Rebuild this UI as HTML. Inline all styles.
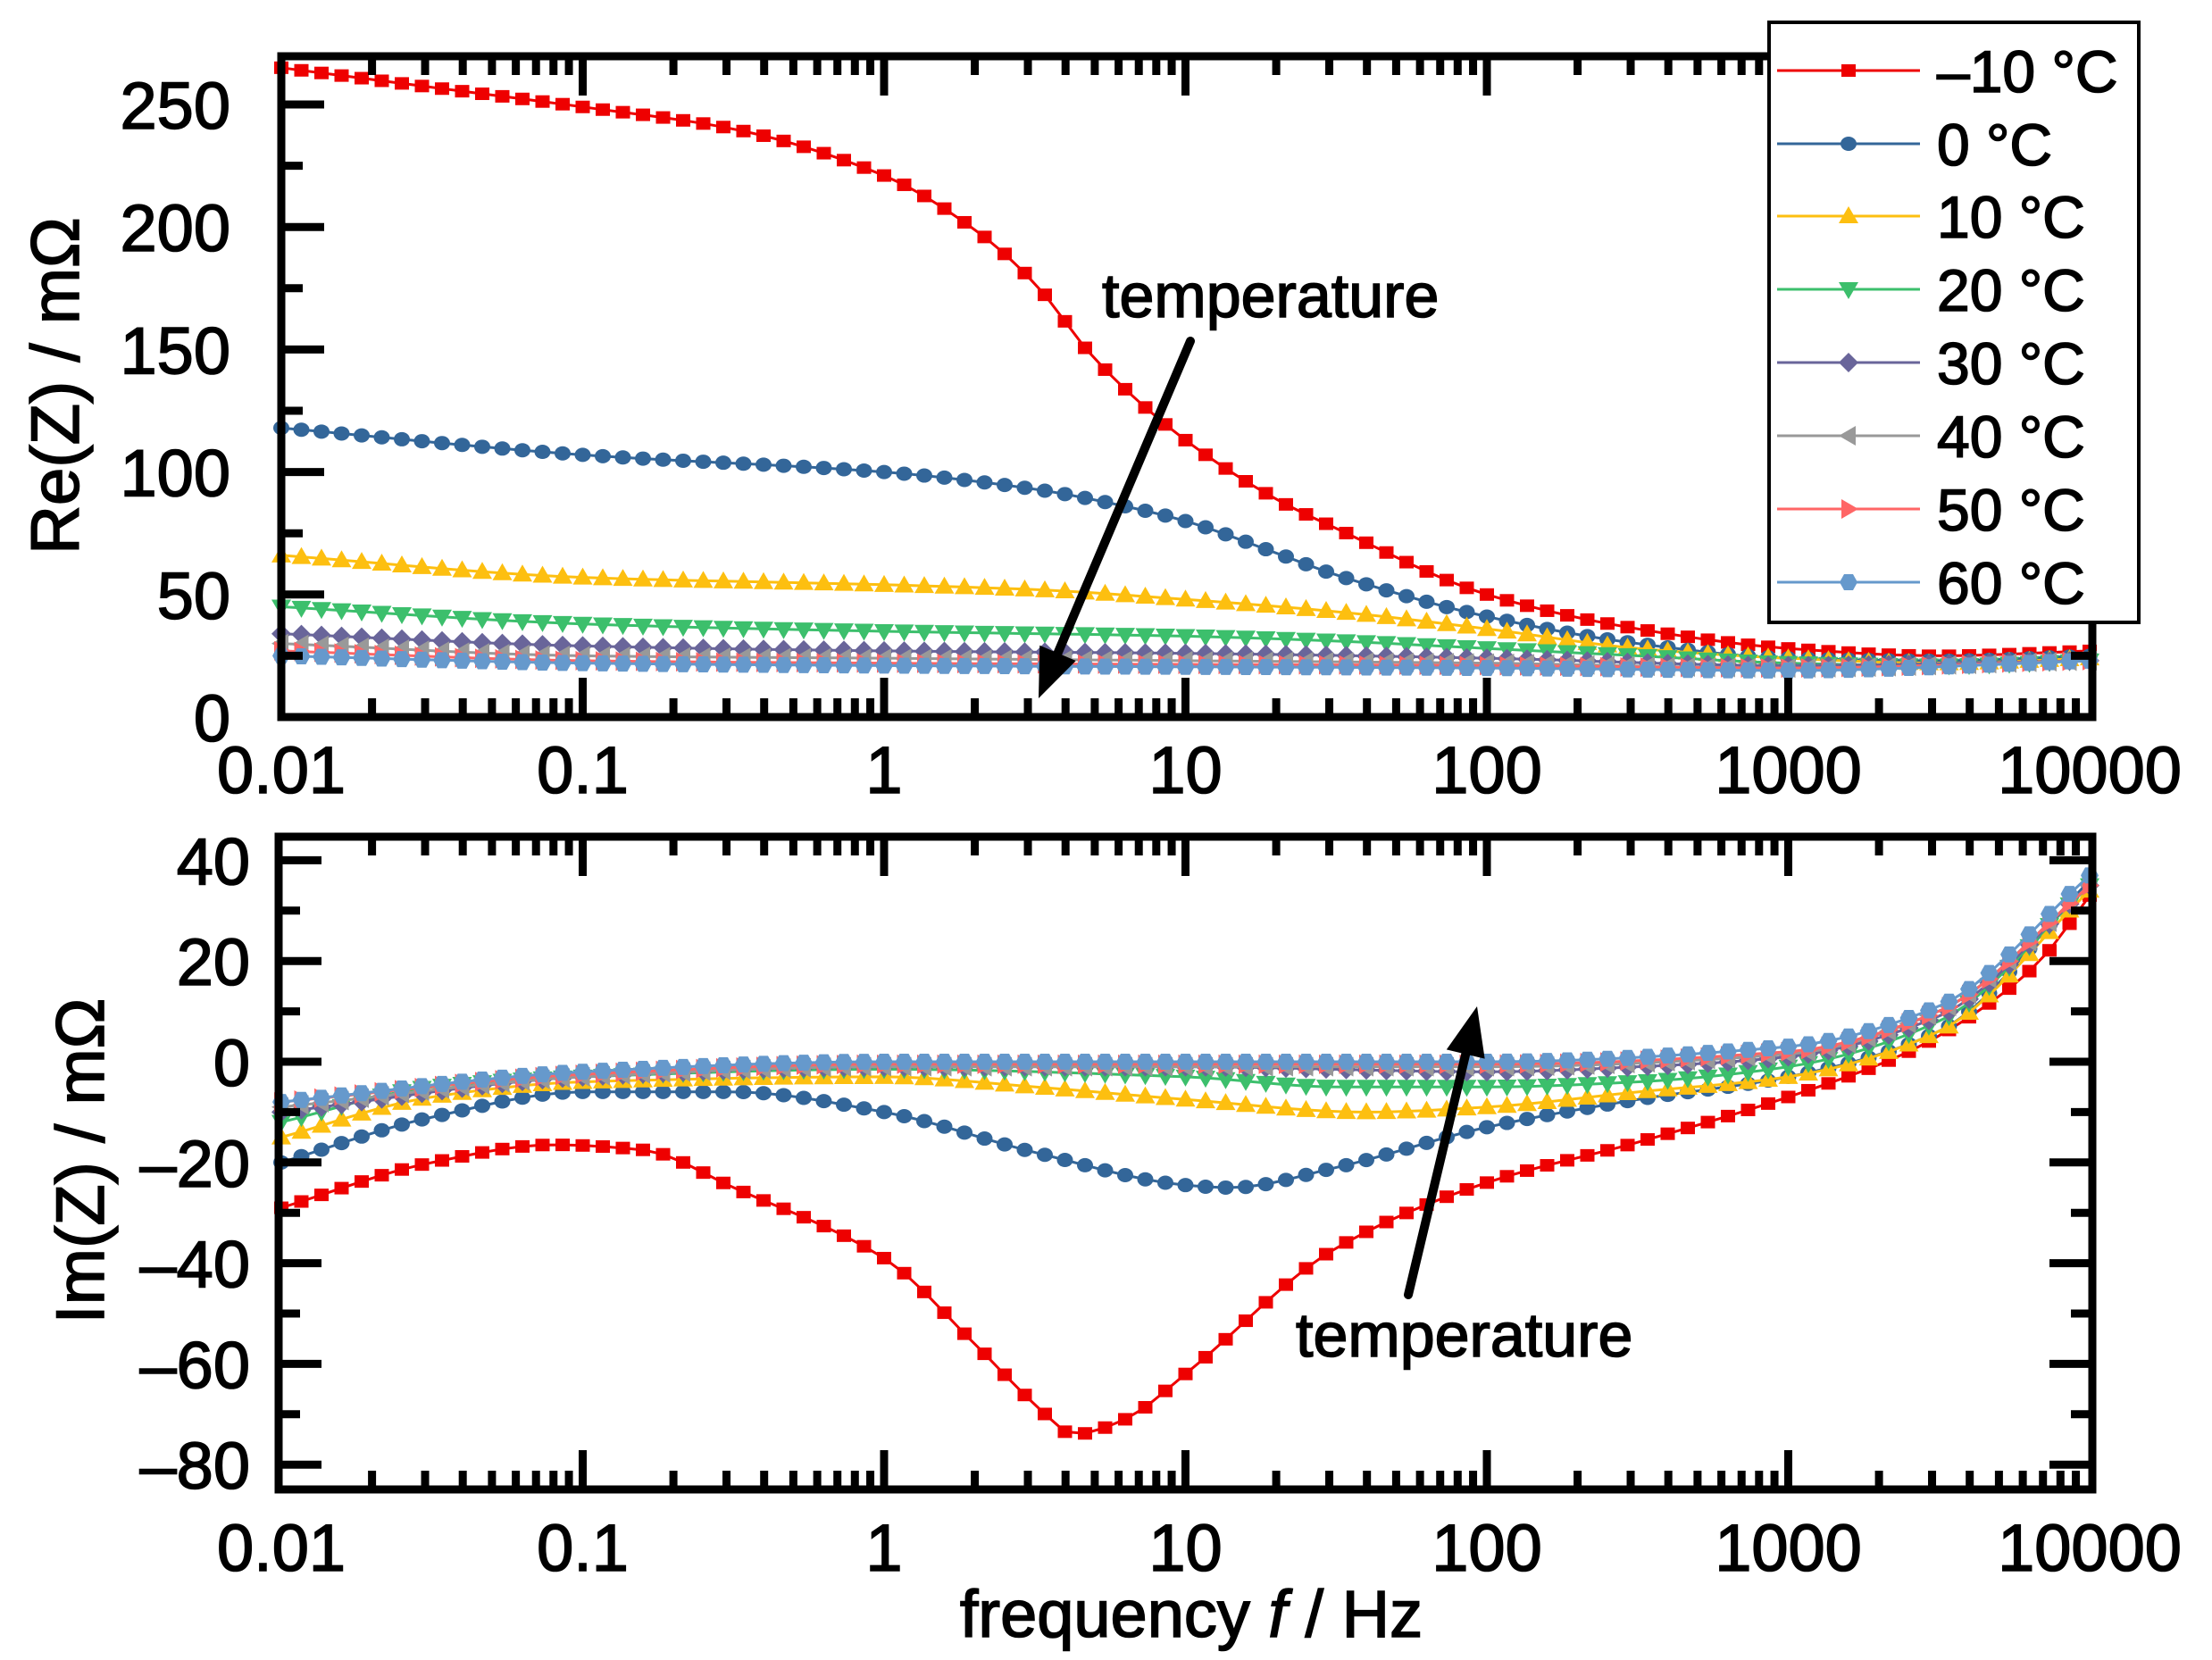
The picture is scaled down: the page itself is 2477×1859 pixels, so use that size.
<!DOCTYPE html>
<html><head><meta charset="utf-8">
<style>html,body{margin:0;padding:0;background:#fff}svg{display:block}text{font-family:"Liberation Sans",Arial,sans-serif;fill:#000;stroke:#000;stroke-width:1.6px}</style>
</head><body>
<svg id="s" width="2477" height="1859" viewBox="0 0 2477 1859" xmlns="http://www.w3.org/2000/svg">
<g id="g"></g>
<text x="1234" y="355" font-size="70">temperature</text>
<text x="1451" y="1519" font-size="70">temperature</text>
<text transform="translate(88,432) rotate(-90)" text-anchor="middle" font-size="76">Re(Z) / mΩ</text>
<text transform="translate(116,1300) rotate(-90)" text-anchor="middle" font-size="76">Im(Z) / mΩ</text>
<text x="1334" y="1833" text-anchor="middle" font-size="74">frequency <tspan font-style="italic">f</tspan> / Hz</text>
</svg>
<script>
var NS="http://www.w3.org/2000/svg",G=document.getElementById('g');
function el(t,a,p){var e=document.createElementNS(NS,t);for(var k in a)e.setAttribute(k,a[k]);(p||G).appendChild(e);return e;}
var X0=315,DEC=337.5;function X(l){return X0+(l+2)*DEC;}
function yT(v){return 803-v*2.744;}function yB(v){return 1189-v*5.64;}
function interp(kp,x){var n=kp.length;if(x<=kp[0][0])return kp[0][1];if(x>=kp[n-1][0])return kp[n-1][1];
 var i=0;while(kp[i+1][0]<x)i++;
 function sl(j){if(j<=0)return (kp[1][1]-kp[0][1])/(kp[1][0]-kp[0][0]);if(j>=n-1)return (kp[n-1][1]-kp[n-2][1])/(kp[n-1][0]-kp[n-2][0]);
  var a=(kp[j][1]-kp[j-1][1])/(kp[j][0]-kp[j-1][0]),b=(kp[j+1][1]-kp[j][1])/(kp[j+1][0]-kp[j][0]);if(a*b<=0)return 0;return 2/(1/a+1/b);}
 var h=kp[i+1][0]-kp[i][0],t=(x-kp[i][0])/h,m0=sl(i)*h,m1=sl(i+1)*h,p0=kp[i][1],p1=kp[i+1][1];
 var t2=t*t,t3=t2*t;return (2*t3-3*t2+1)*p0+(t3-2*t2+t)*m0+(-2*t3+3*t2)*p1+(t3-t2)*m1;}
var S=[
{c:"#ee0000",m:"sq",re:[[-2,265],[-1.5,257],[-1,249],[-0.5,240],[0,221],[0.3,199],[0.5,177],[0.7,146],[1,113],[1.3,89],[1.5,77],[2,50],[2.5,36],[3,28],[3.5,25],[4,27]],
 im:[[-2,-29],[-1.5,-20],[-1.1,-16.5],[-0.8,-17.5],[-0.5,-25],[0,-39],[0.3,-56],[0.5,-68],[0.63,-74],[0.8,-71],[1,-62],[1.5,-37],[2,-24],[2.5,-16],[3,-7],[3.4,2],[3.7,13],[3.85,21],[4,33]]},
{c:"#336699",m:"ci",re:[[-2,118],[-1,107],[0,100],[0.5,93],[0.8,86],[1,80],[1.3,67],[1.5,58],[2,41],[2.5,30],[3,24],[3.5,23],[4,25]],
 im:[[-2,-20],[-1.5,-11],[-1,-6],[-0.5,-6],[0,-10],[0.5,-18],[1,-24.5],[1.15,-25],[1.5,-21],[2,-13],[2.5,-7.5],[3,-3],[3.5,6],[4,36]]},
{c:"#fdbf10",m:"tu",re:[[-2,66],[-1,57],[0,54],[0.5,52],[1,48],[1.5,43],[2,36],[2.5,28],[3,24],[3.5,22],[4,24]],
 im:[[-2,-15],[-1.5,-7],[-1,-4],[0,-3],[0.5,-5],[1,-7.5],[1.6,-10],[2,-9],[2.5,-6],[3,-3],[3.5,6],[4,34]]},
{c:"#3cbf6c",m:"td",re:[[-2,45],[-1,38],[0,35],[1,33],[1.5,31],[2,28],[2.5,25],[3,22],[3.5,21],[4,23]],
 im:[[-2,-12],[-1.5,-5],[-1,-3],[0,-1.5],[1,-3],[1.5,-5],[2,-5],[2.5,-4],[3,-1],[3.5,8],[4,35]]},
{c:"#69659a",m:"di",re:[[-2,34],[-1,29],[0,27],[1,26],[2,24],[3,21],[4,23]],
 im:[[-2,-10],[-1,-3],[0,-1],[1,-1],[2,-2],[2.5,-1],[3,1],[3.5,9],[4,35]]},
{c:"#999999",m:"tl",re:[[-2,30],[-1,25],[0,24],[1,23],[2,22],[3,20],[4,23]],
 im:[[-2,-9],[-1,-3],[0,-1],[2,-1],[3,1.5],[3.5,10],[4,35]]},
{c:"#ff6666",m:"tr",re:[[-2,27],[-1,23],[0,22],[2,21],[3,20],[4,23]],
 im:[[-2,-8],[-1,-2.5],[0,-0.5],[2,-0.5],[3,2],[3.5,10],[4,35]]},
{c:"#6699cc",m:"ci2",re:[[-2,25],[-1,22],[0,21],[2,20],[3,19],[4,23]],
 im:[[-2,-8],[-1,-2],[0,0],[2,0],[3,3],[3.5,11],[4,37]]}];
function mk(t,x,y,c){
 if(t=="sq")el('rect',{x:x-8,y:y-7,width:16,height:14,fill:c});
 else if(t=="ci")el('ellipse',{cx:x,cy:y,rx:9,ry:8,fill:c});
 else if(t=="ci2")el('polygon',{points:[x-10,y,x-5,y-9,x+5,y-9,x+10,y,x+5,y+9,x-5,y+9].join(' '),fill:c});
 else if(t=="tu")el('polygon',{points:[x,y-11,x+11,y+8,x-11,y+8].join(' '),fill:c});
 else if(t=="td")el('polygon',{points:[x,y+11,x+11,y-8,x-11,y-8].join(' '),fill:c});
 else if(t=="di")el('polygon',{points:[x,y-11,x+11,y,x,y+11,x-11,y].join(' '),fill:c});
 else if(t=="tl")el('polygon',{points:[x-11,y,x+8,y-11,x+8,y+11].join(' '),fill:c});
 else if(t=="tr")el('polygon',{points:[x+11,y,x-8,y-11,x-8,y+11].join(' '),fill:c});}
var N=91;
function plot(key,yf){S.forEach(function(s){var pts=[];for(var i=0;i<N;i++){var l=-2+6*i/(N-1);pts.push([X(l),yf(interp(s[key],l))]);}
 el('polyline',{points:pts.map(function(p){return p[0].toFixed(1)+','+p[1].toFixed(1)}).join(' '),fill:'none',stroke:s.c,'stroke-width':3});
 pts.forEach(function(p){mk(s.m,p[0],p[1],s.c);});});}
plot('re',yT);plot('im',yB);
function frame(x1,y1,x2,y2,yticks,minor,yf,labX,xlabY){
 el('rect',{x:x1,y:y1,width:x2-x1,height:y2-y1,fill:'none',stroke:'#000','stroke-width':9});
 for(var d=-2;d<=4;d++){var x=X(d);
  if(d>-2&&d<4){el('line',{x1:x,y1:y2,x2:x,y2:y2-44,stroke:'#000','stroke-width':9});el('line',{x1:x,y1:y1,x2:x,y2:y1+44,stroke:'#000','stroke-width':9});}
  var lab=["0.01","0.1","1","10","100","1000","10000"][d+2];
  var t=el('text',{x:x,y:xlabY,'text-anchor':'middle','font-size':74});t.textContent=lab;
  if(d<4)for(var k=2;k<10;k++){var xm=X(d+Math.log10(k));
   el('line',{x1:xm,y1:y2,x2:xm,y2:y2-21,stroke:'#000','stroke-width':9});el('line',{x1:xm,y1:y1,x2:xm,y2:y1+21,stroke:'#000','stroke-width':9});}}
 yticks.forEach(function(v){var y=yf(v);
  el('line',{x1:x1,y1:y,x2:x1+48,y2:y,stroke:'#000','stroke-width':9});el('line',{x1:x2,y1:y,x2:x2-48,y2:y,stroke:'#000','stroke-width':9});
  var t=el('text',{x:labX,y:y+27,'text-anchor':'end','font-size':74});t.textContent=(v<0?'\u2013'+(-v):''+v);});
 minor.forEach(function(v){var y=yf(v);
  el('line',{x1:x1,y1:y,x2:x1+24,y2:y,stroke:'#000','stroke-width':9});el('line',{x1:x2,y1:y,x2:x2-24,y2:y,stroke:'#000','stroke-width':9});});}
frame(315,63,2343,803,[0,50,100,150,200,250],[25,75,125,175,225],yT,258,888);
frame(312,937,2343,1668,[-80,-60,-40,-20,0,20,40],[-70,-50,-30,-10,10,30],yB,280,1759);
function arrow(x1,y1,x2,y2){var dx=x2-x1,dy=y2-y1,L=Math.hypot(dx,dy),ux=dx/L,uy=dy/L,hl=55,hw=22;
 var bx=x2-ux*hl,by=y2-uy*hl;
 el('line',{x1:x1,y1:y1,x2:bx,y2:by,stroke:'#000','stroke-width':10,'stroke-linecap':'round'});
 el('polygon',{points:[x2,y2,bx-uy*hw,by+ux*hw,bx+uy*hw,by-ux*hw].join(' '),fill:'#000'});}
arrow(1333,382,1163,782);arrow(1577,1450,1654,1127);
el('rect',{x:1981,y:25,width:414,height:672,fill:'#fff',stroke:'#000','stroke-width':4});
var labs=["\u201310 \u00b0C","0 \u00b0C","10 \u00b0C","20 \u00b0C","30 \u00b0C","40 \u00b0C","50 \u00b0C","60 \u00b0C"];
[79,161,242,324,406,488,570,652].forEach(function(y,i){var s=S[i];
 el('line',{x1:1990,y1:y,x2:2150,y2:y,stroke:s.c,'stroke-width':3});mk(s.m,2070,y,s.c);
 var t=el('text',{x:2169,y:y+24,'font-size':66});t.textContent=labs[i];});
</script>
</body></html>
